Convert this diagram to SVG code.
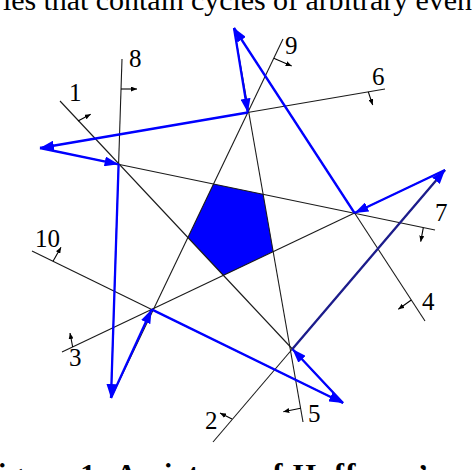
<svg xmlns="http://www.w3.org/2000/svg" width="474" height="470" viewBox="0 0 474 470">
<defs>
<marker id="ba" viewBox="0 0 14 10" refX="14" refY="5" markerWidth="14" markerHeight="10" markerUnits="userSpaceOnUse" orient="auto"><path d="M0,0 L14,5 L0,10 z" fill="#0000ff"/></marker>
<marker id="sa" viewBox="0 0 6 5" refX="6" refY="2.5" markerWidth="6" markerHeight="5" markerUnits="userSpaceOnUse" orient="auto"><path d="M0,0 L6,2.5 L0,5 z" fill="#000"/></marker>
</defs>
<style>
.ln{stroke:#1a1a1a;stroke-width:1.1;fill:none}
.tick{stroke:#000;stroke-width:1.1;fill:none;marker-end:url(#sa)}
.lbl{font-family:"Liberation Serif","Times New Roman",serif;font-size:25px;fill:#000}
.bl{stroke:#0000ff;stroke-width:2.3;fill:none;marker-end:url(#ba)}
.cap{font-family:"Liberation Serif","Times New Roman",serif;fill:#000}
</style>
<rect width="474" height="470" fill="#fff"/>
<text class="cap" x="3" y="9.5" font-size="30" textLength="469" lengthAdjust="spacing">les that contain cycles of arbitrary even</text>
<text class="cap" x="-2" y="484" font-size="30" font-weight="bold" textLength="442" lengthAdjust="spacing">igure 1: A picture of Hoffman’s</text>
<g id="pentagon"><polygon points="213.5,184 263.1,194.3 273.2,251.6 223.4,275.4 187.9,237.5" fill="#0000ff"/></g>
<g id="line1"><line class="ln" x1="60" y1="101" x2="343" y2="403"/><line class="tick" x1="78" y1="121" x2="90.7" y2="114.3"/><text class="lbl" x="69" y="101">1</text></g>
<g id="line2"><line class="ln" x1="213" y1="442" x2="445" y2="170"/><line class="tick" x1="232" y1="419" x2="220" y2="413"/><text class="lbl" x="205" y="429">2</text></g>
<g id="line3"><line class="ln" x1="62" y1="352" x2="445" y2="170"/><line class="tick" x1="72.7" y1="347" x2="70" y2="333"/><text class="lbl" x="69" y="366">3</text></g>
<g id="line4"><line class="ln" x1="425" y1="321" x2="234" y2="28"/><line class="tick" x1="411.3" y1="300" x2="398.3" y2="309.3"/><text class="lbl" x="422" y="310">4</text></g>
<g id="line5"><line class="ln" x1="303" y1="422" x2="234" y2="28"/><line class="tick" x1="300.6" y1="408.3" x2="283.3" y2="411.7"/><text class="lbl" x="308" y="422">5</text></g>
<g id="line6"><line class="ln" x1="385" y1="89" x2="40" y2="148"/><line class="tick" x1="368.3" y1="91.9" x2="372.7" y2="105"/><text class="lbl" x="372" y="85">6</text></g>
<g id="line7"><line class="ln" x1="435" y1="230" x2="40" y2="148"/><line class="tick" x1="423.3" y1="227.6" x2="420.7" y2="241.7"/><text class="lbl" x="435" y="221">7</text></g>
<g id="line8"><line class="ln" x1="122" y1="59" x2="111" y2="398"/><line class="tick" x1="121" y1="89" x2="137" y2="89"/><text class="lbl" x="129" y="67">8</text></g>
<g id="line9"><line class="ln" x1="283" y1="39" x2="111" y2="398"/><line class="tick" x1="273.8" y1="58.3" x2="291.7" y2="66"/><text class="lbl" x="285" y="54">9</text></g>
<g id="line10"><line class="ln" x1="32" y1="251" x2="343" y2="403"/><line class="tick" x1="53" y1="261.3" x2="61" y2="247.3"/><text class="lbl" x="35" y="247">10</text></g>
<g id="connectors">
<line class="bl" x1="234" y1="28" x2="247.8" y2="112.5"/>
<line class="bl" x1="247.8" y1="112.5" x2="40" y2="148"/>
<line class="bl" x1="40" y1="148" x2="118.6" y2="164.3"/>
<line class="bl" x1="118.6" y1="164.3" x2="111" y2="398"/>
<line class="bl" x1="111" y1="398" x2="151.6" y2="309.4"/>
<line class="bl" x1="151.6" y1="309.4" x2="343" y2="403"/>
<line class="bl" x1="343" y1="403" x2="292.4" y2="349"/>
<line class="bl" x1="292.4" y1="349" x2="445" y2="170" style="stroke:#1c1c8c"/>
<line class="bl" x1="445" y1="170" x2="354.5" y2="213"/>
<line class="bl" x1="354.5" y1="213" x2="234" y2="28"/>
</g>
</svg>
